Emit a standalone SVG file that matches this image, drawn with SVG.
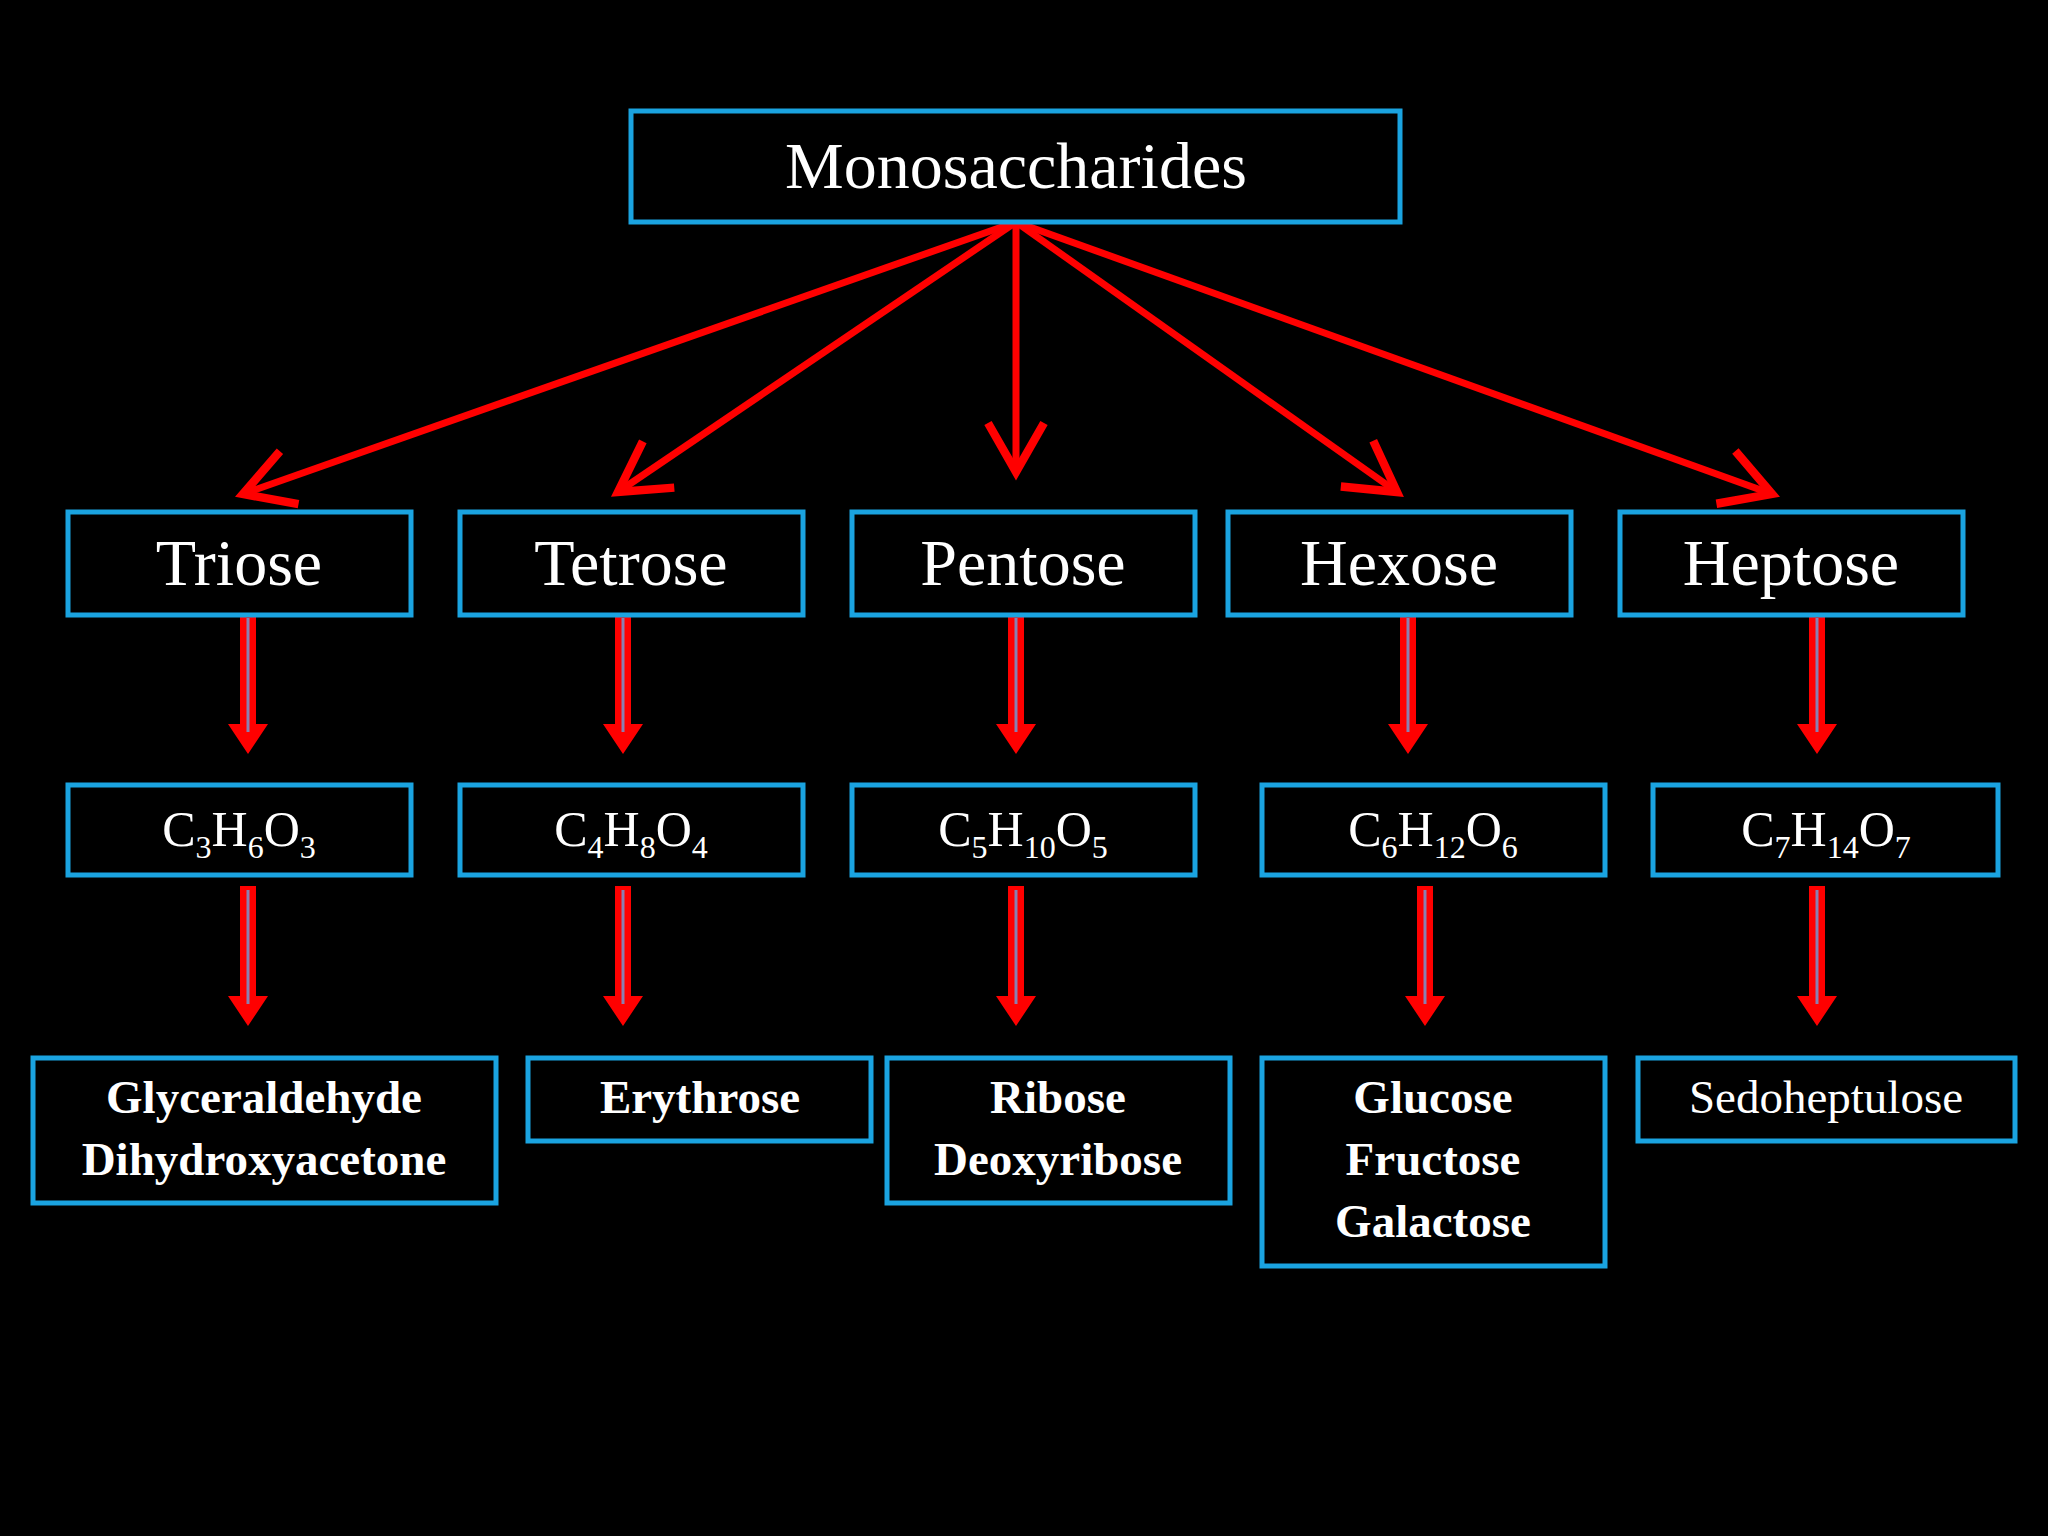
<svg xmlns="http://www.w3.org/2000/svg" width="2048" height="1536" viewBox="0 0 2048 1536">
<style>
.b{fill:#000;stroke:#1aa3e0;stroke-width:5}
.t{font-family:"Liberation Serif","DejaVu Serif",serif;fill:#fff;text-anchor:middle}
.h{font-size:66px}.f{font-size:50px}.s{font-size:32px}
.bd{font-size:47px;font-weight:bold}.r{font-size:47px}
.d{stroke:#f00;stroke-width:7;fill:none}
.va{fill:#f00}.vi{stroke:#8a7fb0;stroke-width:3}
</style>
<defs>
<marker id="m" markerWidth="10" markerHeight="10" refX="8" refY="5" orient="auto" markerUnits="strokeWidth"><path d="M1,1 L8,5 L1,9" fill="none" stroke="#f00" stroke-width="1.2"/></marker>
<g id="va"><path class="va" d="M-8,0 H8 V110 H20 L0,140 L-20,110 H-8 Z"/><line class="vi" x1="0" y1="4" x2="0" y2="118"/></g>
</defs>
<rect width="2048" height="1536" fill="#000"/>
<g id="connectors">
<line class="d" x1="1016" y1="222" x2="243" y2="494" marker-end="url(#m)"/>
<line class="d" x1="1016" y1="222" x2="618" y2="492" marker-end="url(#m)"/>
<line class="d" x1="1016" y1="222" x2="1016" y2="472" marker-end="url(#m)"/>
<line class="d" x1="1016" y1="222" x2="1397" y2="492" marker-end="url(#m)"/>
<line class="d" x1="1016" y1="222" x2="1772" y2="494" marker-end="url(#m)"/>
<use href="#va" x="248" y="614"/><use href="#va" x="623" y="614"/><use href="#va" x="1016" y="614"/><use href="#va" x="1408" y="614"/><use href="#va" x="1817" y="614"/>
<use href="#va" x="248" y="886"/><use href="#va" x="623" y="886"/><use href="#va" x="1016" y="886"/><use href="#va" x="1425" y="886"/><use href="#va" x="1817" y="886"/>
</g>
<g id="mono"><rect class="b" x="631" y="111" width="769" height="111"/><text class="t h" x="1016" y="188">Monosaccharides</text></g>
<g id="triose"><rect class="b" x="68" y="512" width="343" height="103"/><text class="t h" x="239" y="585">Triose</text></g>
<g id="tetrose"><rect class="b" x="460" y="512" width="343" height="103"/><text class="t h" x="631" y="585">Tetrose</text></g>
<g id="pentose"><rect class="b" x="852" y="512" width="343" height="103"/><text class="t h" x="1023" y="585">Pentose</text></g>
<g id="hexose"><rect class="b" x="1228" y="512" width="343" height="103"/><text class="t h" x="1399" y="585">Hexose</text></g>
<g id="heptose"><rect class="b" x="1620" y="512" width="343" height="103"/><text class="t h" x="1791" y="585">Heptose</text></g>
<g id="f3"><rect class="b" x="68" y="785" width="343" height="90"/><text class="t f" x="239" y="846">C<tspan class="s" dy="12">3</tspan><tspan dy="-12">H</tspan><tspan class="s" dy="12">6</tspan><tspan dy="-12">O</tspan><tspan class="s" dy="12">3</tspan></text></g>
<g id="f4"><rect class="b" x="460" y="785" width="343" height="90"/><text class="t f" x="631" y="846">C<tspan class="s" dy="12">4</tspan><tspan dy="-12">H</tspan><tspan class="s" dy="12">8</tspan><tspan dy="-12">O</tspan><tspan class="s" dy="12">4</tspan></text></g>
<g id="f5"><rect class="b" x="852" y="785" width="343" height="90"/><text class="t f" x="1023" y="846">C<tspan class="s" dy="12">5</tspan><tspan dy="-12">H</tspan><tspan class="s" dy="12">10</tspan><tspan dy="-12">O</tspan><tspan class="s" dy="12">5</tspan></text></g>
<g id="f6"><rect class="b" x="1262" y="785" width="343" height="90"/><text class="t f" x="1433" y="846">C<tspan class="s" dy="12">6</tspan><tspan dy="-12">H</tspan><tspan class="s" dy="12">12</tspan><tspan dy="-12">O</tspan><tspan class="s" dy="12">6</tspan></text></g>
<g id="f7"><rect class="b" x="1653" y="785" width="345" height="90"/><text class="t f" x="1826" y="846">C<tspan class="s" dy="12">7</tspan><tspan dy="-12">H</tspan><tspan class="s" dy="12">14</tspan><tspan dy="-12">O</tspan><tspan class="s" dy="12">7</tspan></text></g>
<g id="e3"><rect class="b" x="33" y="1058" width="463" height="145"/><text class="t bd" x="264" y="1113">Glyceraldehyde</text><text class="t bd" x="264" y="1175">Dihydroxyacetone</text></g>
<g id="e4"><rect class="b" x="528" y="1058" width="343" height="83"/><text class="t bd" x="700" y="1113">Erythrose</text></g>
<g id="e5"><rect class="b" x="887" y="1058" width="343" height="145"/><text class="t bd" x="1058" y="1113">Ribose</text><text class="t bd" x="1058" y="1175">Deoxyribose</text></g>
<g id="e6"><rect class="b" x="1262" y="1058" width="343" height="208"/><text class="t bd" x="1433" y="1113">Glucose</text><text class="t bd" x="1433" y="1175">Fructose</text><text class="t bd" x="1433" y="1237">Galactose</text></g>
<g id="e7"><rect class="b" x="1638" y="1058" width="377" height="83"/><text class="t r" x="1826" y="1113">Sedoheptulose</text></g>
</svg>
